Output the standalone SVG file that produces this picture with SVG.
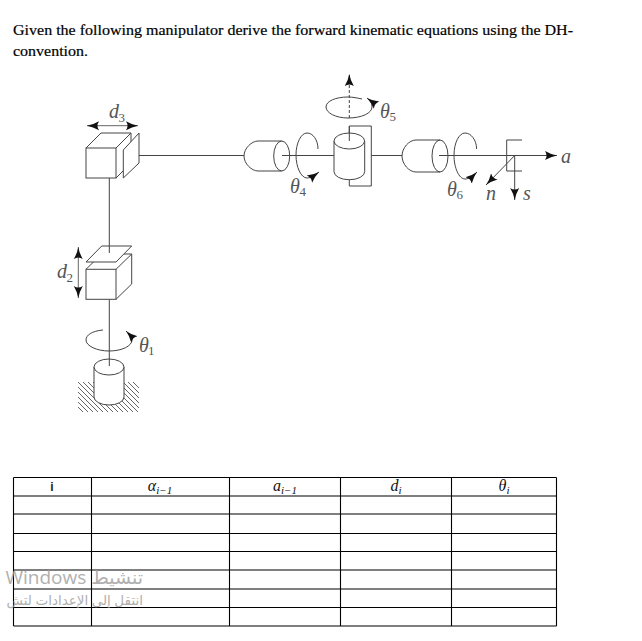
<svg xmlns="http://www.w3.org/2000/svg" width="642" height="641" viewBox="0 0 642 641">
<style>
.l{fill:none;stroke:#444;stroke-width:1}
.w{fill:#fff;stroke:#444;stroke-width:1}
.h{fill:none;stroke:#555;stroke-width:.9}
.a{marker-end:url(#ah)}
.b{marker-start:url(#ahs);marker-end:url(#ah)}
.t{font-family:"Liberation Serif",serif;font-size:15.6px;fill:#000;stroke:#000;stroke-width:.2}
.m{font-family:"Liberation Serif",serif;font-style:italic;font-size:20px;fill:#555}
.s{font-family:"Liberation Serif",serif;font-size:13px;fill:#555}
.g{stroke:#000;stroke-width:1.1;fill:none}
.c{font-family:"Liberation Serif",serif;font-style:italic;font-size:16px;fill:#111;text-anchor:middle}
.cs{font-size:11px}
.wm{font-family:"Open Sans","DejaVu Sans",sans-serif;fill:#a3a3a3;opacity:.85}
</style>
<defs>
<marker id="ah" markerUnits="userSpaceOnUse" markerWidth="14" markerHeight="12" refX="12" refY="6" orient="auto"><path d="M0 1.500Q6 5 12 6Q6 7 0 10.500Q3 6 0 1.500Z" fill="#111"/></marker>
<marker id="ahs" markerUnits="userSpaceOnUse" markerWidth="14" markerHeight="12" refX="0" refY="6" orient="auto"><path d="M12 1.500Q6 5 0 6Q6 7 12 10.500Q9 6 12 1.500Z" fill="#111"/></marker>
<clipPath id="hc"><rect x="78" y="382" width="61" height="30"/></clipPath>
</defs>
<text class="t" x="13" y="35" textLength="560" lengthAdjust="spacingAndGlyphs">Given the following manipulator derive the forward kinematic equations using the DH-</text>
<text class="t" x="13" y="56" textLength="75" lengthAdjust="spacingAndGlyphs">convention.</text>

<g id="connectors">
<path class="l" d="M109.300 178V253M109.300 299.300V340"/>
<path class="l" d="M131 155.500H244M282 155.500H334M371.300 155.500H402M439 155.500H506.700"/>
<path class="l a" d="M506.700 155.500H557"/>
<path class="l" d="M349.300 141V126"/>
<path class="l a" stroke-dasharray="3 2" d="M349.300 118V74"/>
<path class="l a" d="M514.700 155.500L486 185"/>
<path class="l a" d="M514.700 155.500V200"/>
<path class="h b" d="M87 125.700H138"/>
<path class="h b" d="M78.300 247V298"/>
</g>

<g id="base">
<path clip-path="url(#hc)" fill="none" stroke="#555" stroke-width=".9" d="M48 382l30 30M53 382l30 30M58 382l30 30M63 382l30 30M68 382l30 30M73 382l30 30M78 382l30 30M83 382l30 30M88 382l30 30M93 382l30 30M98 382l30 30M103 382l30 30M108 382l30 30M113 382l30 30M118 382l30 30M123 382l30 30M128 382l30 30M133 382l30 30"/>
<path class="w" d="M94 367V397A15 8 0 0 0 124 397V367"/>
<ellipse class="w" cx="109" cy="367" rx="15" ry="8"/>
<path class="l" d="M109.300 340V366"/>
</g>
<g id="joint-1">
<path class="l a" d="M103 330C92 331 86 335 86 340C86 346 97 351 109 351C122 351 132 346 132 340C132 337 130 335 126 331"/>
<text class="m" x="139" y="352">θ</text><text class="s" x="148" y="355">1</text>
</g>
<g id="joint-2">
<path class="w" d="M86 269.300L101.700 254H131.700V284L116 299.300"/>
<path class="l" d="M116 269.300L131.700 254"/>
<rect class="w" x="86" y="269.300" width="30" height="30"/>
<path class="w" d="M86 262L101.700 246H131.700L116 262Z"/>
<path class="l" d="M109.300 246V253"/>
<text class="m" x="57" y="278">d</text><text class="s" x="66.500" y="282">2</text>
</g>
<g id="joint-3">
<path class="w" d="M86 148L101 133H131V163L116 178"/>
<path class="l" d="M116 148L131 133"/>
<rect class="w" x="86" y="148" width="30" height="30"/>
<path class="w" d="M123.300 150L139 133V163L123.300 178Z"/>
<text class="m" x="109" y="118">d</text><text class="s" x="118.500" y="122">3</text>
</g>
<g id="joint-4">
<path class="l" d="M281.700 141H258C252 141 244 148 244 156C244 164 252 171 258 171H281.700"/>
<ellipse class="l" cx="281.700" cy="156" rx="8" ry="15"/>
<path class="l" d="M282 155.500H290"/>
<path class="l a" d="M318 149C318 140 313 133 307 133C301 133 296 143 296 155C296 167 301 178 307 178C311 178 315 175 319 172"/>
<text class="m" x="290" y="193">θ</text><text class="s" x="299.500" y="196">4</text>
</g>
<g id="joint-5">
<path class="l" d="M349.300 126H371.300V186H349.300V178"/>
<path class="w" d="M334 141V171.700A15.300 8 0 0 0 364.700 171.700V141"/>
<ellipse class="w" cx="349.300" cy="141" rx="15.300" ry="8"/>
<path class="l" d="M349.300 141V126"/>
<path class="l a" d="M362 99C357 98 353 97 348 97C336 97 326 101 326 107C326 113 336 118 348 118C362 118 372 113 372 107C372 104 371 101 367 98"/>
<text class="m" x="380" y="118">θ</text><text class="s" x="389.500" y="121">5</text>
</g>
<g id="joint-6">
<path class="l" d="M440 140H416C409 140 402 148 402 156C402 164 409 172 416 172H440"/>
<ellipse class="l" cx="440" cy="156" rx="8" ry="16"/>
<path class="l a" d="M476.600 149C476.600 140 471 133 465 133C459 133 454 143 454 155C454 168 459 179 465 179C469 179 473 176 477 172"/>
<text class="m" x="447" y="196">θ</text><text class="s" x="456.500" y="199">6</text>
</g>
<g id="gripper">
<path class="l" d="M522 140H506.700V171H522"/>
<text class="m" x="486" y="200">n</text>
<text class="m" x="523" y="200">s</text>
<text class="m" x="561" y="163">a</text>
</g>

<g id="table">
<path class="g" d="M13.500 477.500H556.500M13.500 496H556.500M13.500 514H556.500M13.500 533.500H556.500M13.500 551.500H556.500M13.500 570H556.500M13.500 589H556.500M13.500 607.500H556.500M13.500 626H556.500"/>
<path class="g" d="M13.500 477.500V626M91.500 477.500V626M229.500 477.500V626M340.500 477.500V626M451.500 477.500V626M556.500 477.500V626"/>
<text x="52" y="491" style="font-family:'Liberation Sans',sans-serif;font-size:12px;font-weight:bold;text-anchor:middle;fill:#222">i</text>
<text class="c" x="160" y="491">α<tspan class="cs" dy="3">i−1</tspan></text>
<text class="c" x="285" y="491">a<tspan class="cs" dy="3">i−1</tspan></text>
<text class="c" x="396" y="491">d<tspan class="cs" dy="3">i</tspan></text>
<text class="c" x="504" y="491">θ<tspan class="cs" dy="3">i</tspan></text>
</g>

<g id="watermark">
<text class="wm" x="143" y="584" direction="rtl" font-size="19">تنشيط Windows</text>
<text class="wm" x="143" y="605" direction="rtl" font-size="13.500">انتقل إلى الإعدادات لتش</text>
</g>
</svg>
